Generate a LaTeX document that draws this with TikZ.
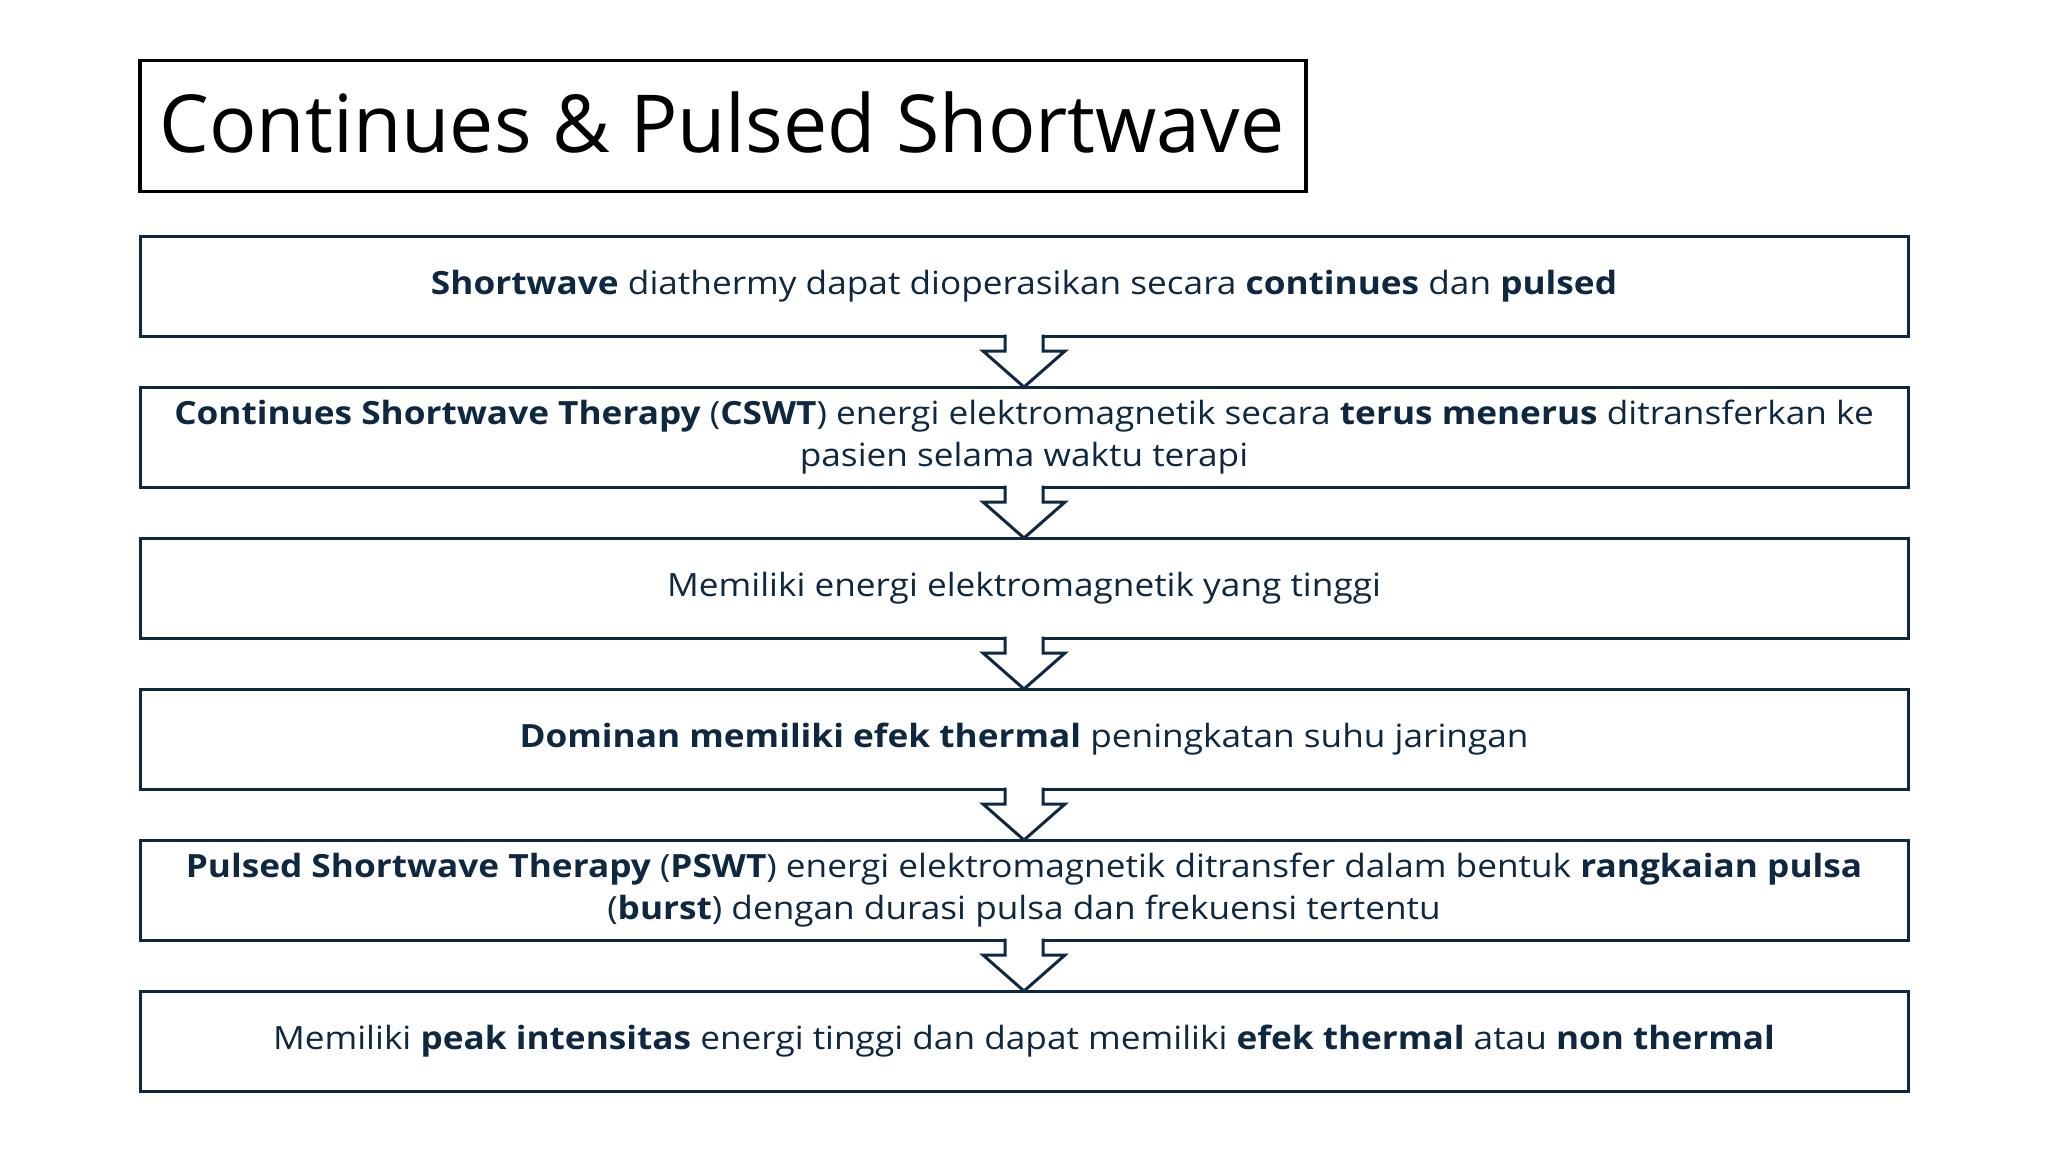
\documentclass[tikz,border=0pt]{standalone}
\usepackage{fontspec}
\setmainfont[FakeStretch=1.1]{Open Sans}
\newfontfamily\titlefont[FakeStretch=0.985]{Open Sans}
\usetikzlibrary{calc}
\definecolor{navy}{HTML}{0E2841}
\newcommand\flowarrow[2]{%
  \fill[white] ($(#1.south)+(-19,-2)$) -- ($(#1.south)+(-19,15)$) -- ($(#1.south)+(-41,15)$) -- (#2.north) -- ($(#1.south)+(41,15)$) -- ($(#1.south)+(19,15)$) -- ($(#1.south)+(19,-2)$) -- cycle;
  \draw[arr] ($(#1.south)+(-19,-1.5)$) -- ($(#1.south)+(-19,15)$) -- ($(#1.south)+(-41,15)$) -- (#2.north) -- ($(#1.south)+(41,15)$) -- ($(#1.south)+(19,15)$) -- ($(#1.south)+(19,-1.5)$);
}
\begin{document}
\begin{tikzpicture}[x=0.5pt,y=-0.5pt,
  box/.style={draw=navy, line width=1.5pt, minimum width=884pt, minimum height=50pt,
    inner sep=0pt, outer sep=0pt, text=navy, align=center,
    font=\fontsize{16}{21}\selectfont},
  arr/.style={draw=navy, line width=1.5pt, line join=miter},
  titlebox/.style={draw=black, line width=1.6pt, minimum width=583pt, minimum height=65.5pt,
    inner sep=0pt, outer sep=0pt, text=black}]
\useasboundingbox (0,0) rectangle (2048,1152);
\fill[white] (0,0) rectangle (2048,1152);
\node[titlebox] (title) at (723,126) {};
\node[text=black, font=\titlefont\fontsize{40}{40}\selectfont, inner sep=0pt] (titletext) at (722,122) {Continues \& Pulsed Shortwave};
\node[box] (b1) at (1024,286) {\textbf{Shortwave} diathermy dapat dioperasikan secara \textbf{continues} dan \textbf{pulsed}};
\node[box] (b2) at (1024,437) {\textbf{Continues Shortwave Therapy} (\textbf{CSWT}) energi elektromagnetik secara \textbf{terus menerus} ditransferkan ke\\ pasien selama waktu terapi};
\node[box] (b3) at (1024,588) {Memiliki energi elektromagnetik yang tinggi};
\node[box] (b4) at (1024,739) {\textbf{Dominan memiliki efek thermal} peningkatan suhu jaringan};
\node[box] (b5) at (1024,890) {\textbf{Pulsed Shortwave Therapy} (\textbf{PSWT}) energi elektromagnetik ditransfer dalam bentuk \textbf{rangkaian pulsa}\\ (\textbf{burst}) dengan durasi pulsa dan frekuensi tertentu};
\node[box] (b6) at (1024,1041) {Memiliki \textbf{peak intensitas} energi tinggi dan dapat memiliki \textbf{efek thermal} atau \textbf{non thermal}};
\flowarrow{b1}{b2}
\flowarrow{b2}{b3}
\flowarrow{b3}{b4}
\flowarrow{b4}{b5}
\flowarrow{b5}{b6}
\end{tikzpicture}
\end{document}
